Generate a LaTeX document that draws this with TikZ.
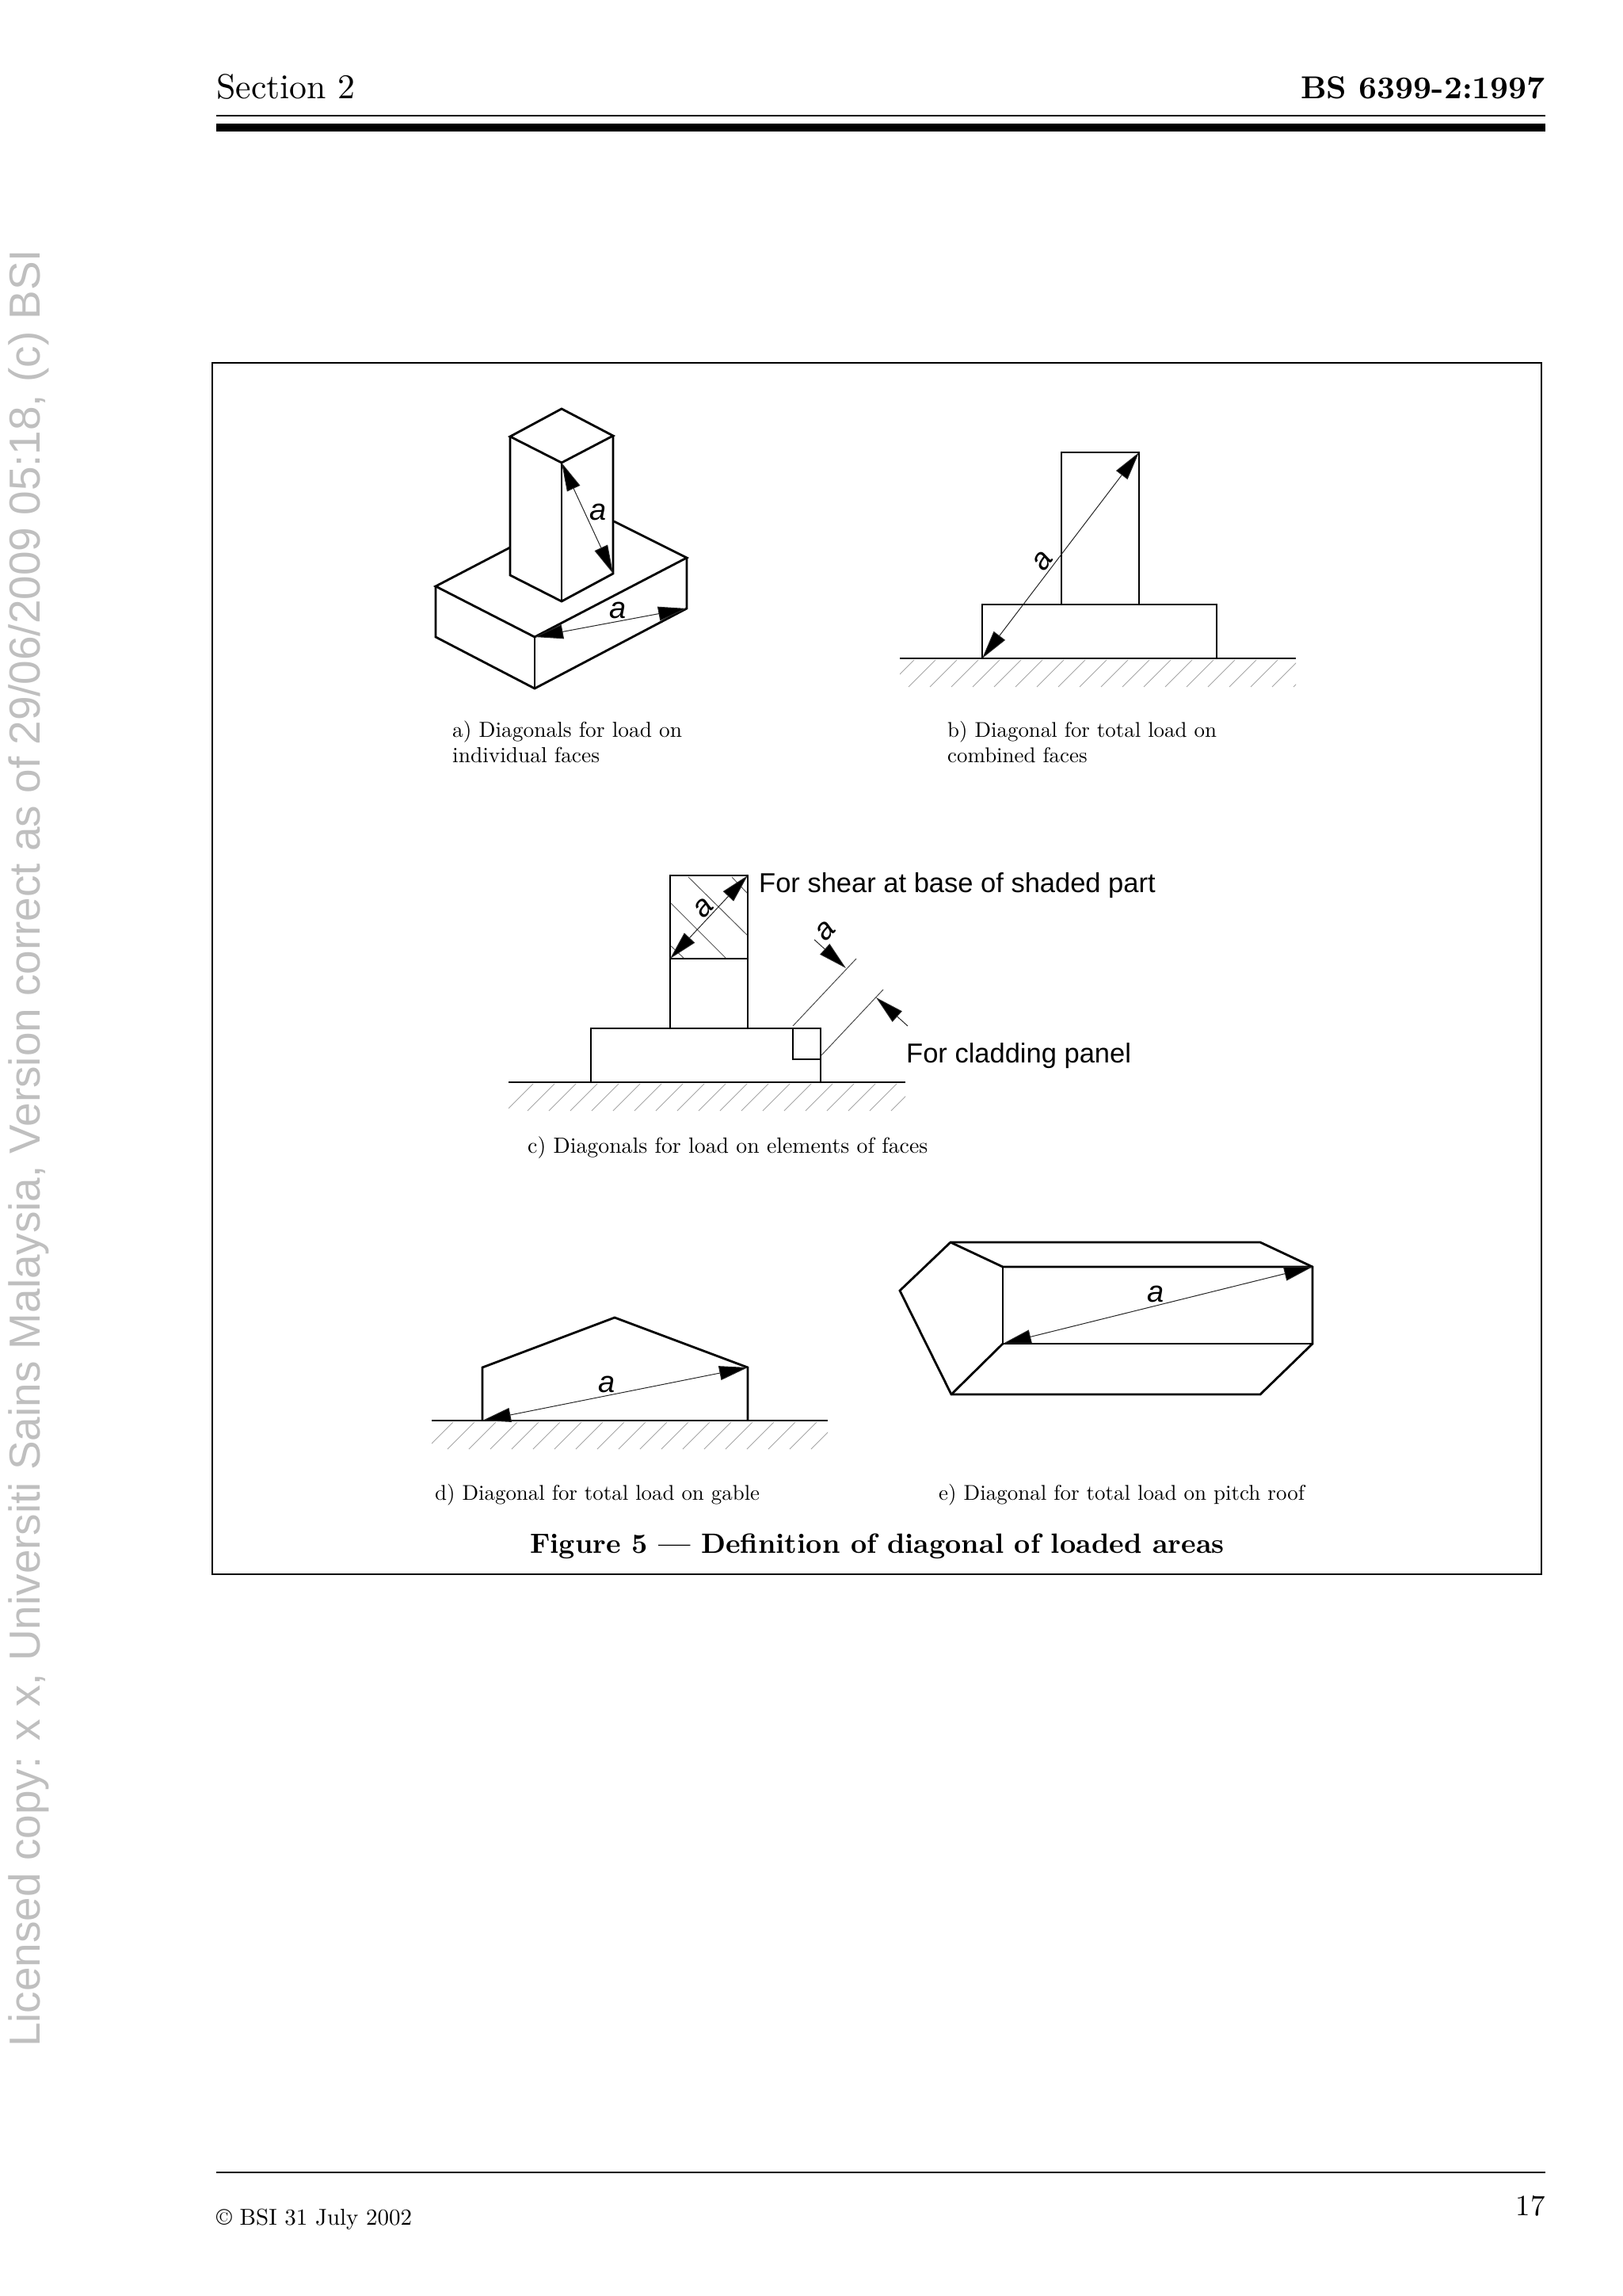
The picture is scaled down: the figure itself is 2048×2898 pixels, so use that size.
\documentclass[tikz,border=0pt]{standalone}
\usepackage{fontspec}
\usepackage{graphicx}
\usetikzlibrary{arrows.meta}
\newfontfamily\helv{Liberation Sans}
\newcommand\capscale[2]{\scalebox{#1}{#2}}
\newcommand\groundhatch[4]{% xmin, xmax, ground y, first bottom x
  \begin{scope}
    \clip (#1,#3+2) rectangle (#2,#3+36);
    \foreach \k in {-1,...,24}{
      \draw[hatchline] ({#4+27*\k},{#3+36}) -- ++(36,-36);
    }
  \end{scope}}
\tikzset{
  outline/.style={line width=2.8pt,line join=miter,line cap=butt,black},
  hatchline/.style={line width=0.9pt,black!35},
  shadeline/.style={line width=1pt,black!65},
  extline/.style={line width=1pt,black!70},
  dimline/.style={line width=1pt,black!85,{Triangle[length=36pt,width=18pt,fill=black]}-{Triangle[length=36pt,width=18pt,fill=black]}},
  dimone/.style={line width=1pt,black!85,-{Triangle[length=36pt,width=18pt,fill=black]}},
  dimlabel/.style={font=\helv\itshape\fontsize{38}{38}\selectfont,inner sep=0pt},
  sanslabel/.style={font=\helv\fontsize{34.5}{35}\selectfont,inner sep=0pt,anchor=base west},
  capt/.style={inner sep=0pt,anchor=base west},
  watermark/.style={font=\helv\fontsize{54.9}{55}\selectfont,text=black!25,inner sep=0pt,rotate=90,anchor=base west}
}
\begin{document}
\begin{tikzpicture}[x=1pt,y=-1pt]
\useasboundingbox (0,0) rectangle (2048,2898);
\fill[white] (0,0) rectangle (2048,2898);
% page furniture
\node[watermark] (wm) at (50,2584) {Licensed copy: x x, Universiti Sains Malaysia, Version correct as of 29/06/2009 05:18, (c) BSI};
\node[capt] (sec) at (273,125) {\capscale{4.38}{Section 2}};
\node[capt,anchor=base east] (bs) at (1951,125) {\capscale{4.0}{\bfseries BS 6399-2:1997}};
\draw[line width=1.6pt] (273,146) -- (1951,146);
\fill (273,156) rectangle (1951,166);
\draw[line width=2pt] (273,2742) -- (1951,2742);
\node[capt] (copy) at (273,2808) {\capscale{2.9}{\textcopyright\ BSI 31 July 2002}};
\node[capt,anchor=base east] (pg) at (1951,2796) {\capscale{3.7}{17}};
\draw[line width=1.8pt] (268,458) rectangle (1946,1987);

% --- a
\draw[outline] (644,551) -- (709,516) -- (774,550) -- (709,584) -- cycle;
\draw[outline] (644,551) -- (644,726) -- (709,759) -- (774,724) -- (774,550);
\draw[outline] (709,584) -- (709,759);
\draw[outline] (644,691) -- (550,740) -- (675,804) -- (867,704) -- (775,658);
\draw[outline] (550,740) -- (550,804) -- (675,869) -- (867,768) -- (867,704);
\draw[outline] (675,804) -- (675,869);
\coordinate (a1s) at (709,584); \coordinate (a1e) at (774,724);
\coordinate (a2s) at (675,804); \coordinate (a2e) at (867,768);
\draw[dimline] (a1s) -- (a1e);
\draw[dimline] (a2s) -- (a2e);
\node[dimlabel] (la1) at (755,646) {a};
\node[dimlabel] (la2) at (780,770) {a};
\node[capt] (capa) at (571,930) {\capscale{2.74}{\begin{tabular}[t]{@{}l@{}}a) Diagonals for load on\\individual faces\end{tabular}}};

% --- b
\draw[outline] (1340,763) rectangle (1438,571);
\draw[outline] (1240,831) rectangle (1536,763);
\draw[outline] (1136,831) -- (1636,831);
\groundhatch{1136}{1636}{831}{1147}
\coordinate (bs1) at (1240,831); \coordinate (be1) at (1438,571);
\draw[dimline] (bs1) -- (be1);
\node[dimlabel,rotate=54] (lb) at (1317,708) {a};
\node[capt] (capb) at (1196,930) {\capscale{2.69}{\begin{tabular}[t]{@{}l@{}}b) Diagonal for total load on\\combined faces\end{tabular}}};

% --- c
\begin{scope}
\draw[shadeline] (869,1107) -- (943,1180);
\draw[shadeline] (924,1107) -- (943,1127);
\draw[shadeline] (847,1140) -- (916,1209);
\draw[shadeline] (847,1194) -- (863,1209);
\end{scope}
\draw[outline] (846,1298) rectangle (944,1105);
\draw[outline] (846,1210) -- (944,1210);
\draw[outline] (746,1366) rectangle (1036,1298);
\draw[outline] (1001,1298) -- (1001,1337) -- (1036,1337);
\draw[outline] (642,1366) -- (1143,1366);
\groundhatch{642}{1143}{1366}{666}
\coordinate (cs1) at (846,1210); \coordinate (ce1) at (944,1105);
\draw[dimline] (cs1) -- (ce1);
\node[dimlabel,rotate=47] (lc1) at (888,1146) {a};
\coordinate (x1a) at (1001,1295); \coordinate (x1b) at (1081,1210);
\coordinate (x2a) at (1037,1332); \coordinate (x2b) at (1115,1249);
\draw[extline] (x1a) -- (x1b);
\draw[extline] (x2a) -- (x2b);
\coordinate (d1a) at (1028,1186); \coordinate (d1b) at (1068,1222);
\coordinate (d2a) at (1146,1295); \coordinate (d2b) at (1106,1259);
\draw[dimone] (d1a) -- (d1b);
\draw[dimone] (d2a) -- (d2b);
\node[dimlabel,rotate=47] (lc2) at (1042,1175) {a};
\node[sanslabel] (t1) at (958,1126) {For shear at base of shaded part};
\node[sanslabel] (t2) at (1144,1341) {For cladding panel};
\node[capt] (capc) at (666,1455) {\capscale{2.78}{c) Diagonals for load on elements of faces}};

% --- d
\draw[outline] (609,1793) -- (609,1726) -- (776,1663) -- (944,1726) -- (944,1793);
\draw[outline] (545,1793) -- (1045,1793);
\groundhatch{545}{1045}{1793}{565}
\coordinate (ds1) at (609,1793); \coordinate (de1) at (944,1726);
\draw[dimline] (ds1) -- (de1);
\node[dimlabel] (ld) at (766,1747) {a};
\node[capt] (capd) at (549,1893) {\capscale{2.69}{d) Diagonal for total load on gable}};

% --- e
\draw[outline] (1201,1760) -- (1136,1629) -- (1200,1568) -- (1591,1568) -- (1657,1599) -- (1657,1696) -- (1591,1760) -- cycle;
\draw[outline] (1200,1568) -- (1266,1599) -- (1657,1599);
\draw[outline] (1266,1599) -- (1266,1696) -- (1657,1696);
\draw[outline] (1266,1696) -- (1201,1760);
\coordinate (es1) at (1266,1696); \coordinate (ee1) at (1657,1599);
\draw[dimline] (es1) -- (ee1);
\node[dimlabel] (le) at (1459,1633) {a};
\node[capt] (cape) at (1185,1893) {\capscale{2.7}{e) Diagonal for total load on pitch roof}};

\node[capt] (figcap) at (669,1960) {\capscale{3.52}{\bfseries Figure 5 --- Definition of diagonal of loaded areas}};
\end{tikzpicture}
\end{document}
